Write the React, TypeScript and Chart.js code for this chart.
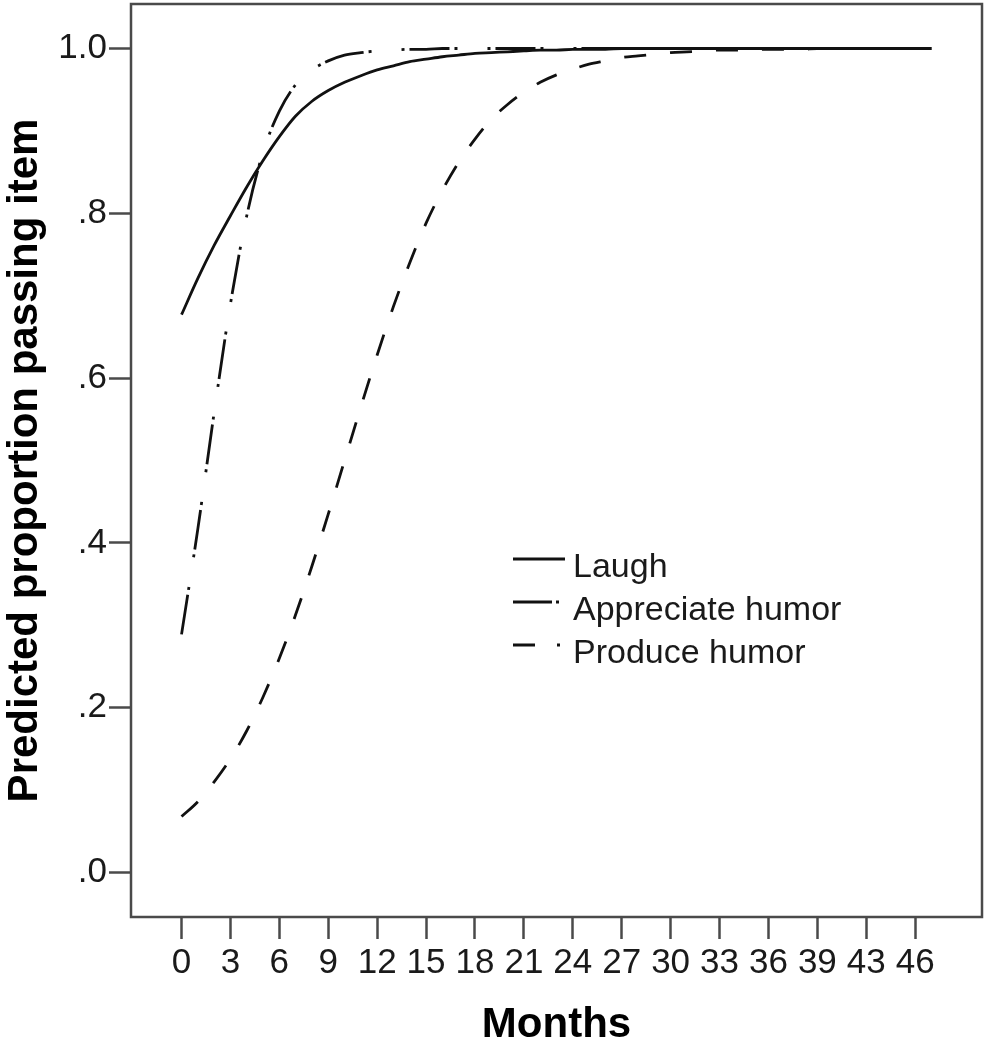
import React, { useEffect, useRef } from "react";
import { Chart, registerables } from "chart.js";

Chart.register(...registerables);

// ---- data ----
const months = [
  0, 1, 2, 3, 4, 5, 6, 7, 8, 9, 10, 11, 12, 13, 14, 15, 16, 17, 18, 19, 20,
  21, 22, 23, 24, 25, 26, 27, 28, 29, 30, 31, 32, 33, 34, 35, 36, 37, 38, 39,
  40, 41, 43, 44, 45, 46, 47,
];

const laugh = [
  0.677, 0.721, 0.761, 0.797, 0.832, 0.864, 0.893, 0.918, 0.936, 0.949, 0.959,
  0.967, 0.974, 0.979, 0.984, 0.987, 0.99, 0.992, 0.994, 0.995, 0.996, 0.997,
  0.998, 0.998, 0.999, 0.999, 0.999, 1.0, 1.0, 1.0, 1.0, 1.0, 1.0, 1.0, 1.0,
  1.0, 1.0, 1.0, 1.0, 1.0, 1.0, 1.0, 1.0, 1.0, 1.0, 1.0, 1.0,
];

const appreciateHumor = [
  0.289, 0.417, 0.558, 0.69, 0.797, 0.874, 0.924, 0.956, 0.974, 0.985, 0.992,
  0.995, 0.997, 0.998, 0.999, 0.999, 1.0, 1.0, 1.0, 1.0, 1.0, 1.0, 1.0, 1.0,
  1.0, 1.0, 1.0, 1.0, 1.0, 1.0, 1.0, 1.0, 1.0, 1.0, 1.0, 1.0, 1.0, 1.0, 1.0,
  1.0, 1.0, 1.0, 1.0, 1.0, 1.0, 1.0, 1.0,
];

const produceHumor = [
  0.068, 0.086, 0.11, 0.138, 0.172, 0.213, 0.26, 0.313, 0.372, 0.435, 0.5,
  0.565, 0.628, 0.687, 0.74, 0.788, 0.828, 0.862, 0.89, 0.914, 0.932, 0.947,
  0.959, 0.968, 0.975, 0.981, 0.985, 0.989, 0.991, 0.993, 0.995, 0.996, 0.997,
  0.998, 0.998, 0.999, 0.999, 0.999, 0.999, 1.0, 1.0, 1.0, 1.0, 1.0, 1.0, 1.0,
  1.0,
];

const seriesNames = ["Laugh", "Appreciate humor", "Produce humor"];
const xLabelStep = 3;
const yTickValues = [0, 0.2, 0.4, 0.6, 0.8, 1.0];
const yTickLabels = [".0", ".2", ".4", ".6", ".8", "1.0"];
const xTitle = "Months";
const yTitle = "Predicted proportion passing item";

// ---- styles ----
const FONT = 'Arial, "Liberation Sans", sans-serif';
const INK = "#1a1a1a";
const FRAME = "#4a4a4a";
const lineDashes = [[], [40, 5, 3, 30, 3, 5], [22, 24]];
const legendSampleDashes = [[], [39, 4, 3, 200], [22, 22, 3, 200]];

const framePlugin = {
  id: "frame",
  afterDraw(chart: any) {
    const { ctx, chartArea: a } = chart;
    ctx.save();
    ctx.strokeStyle = FRAME;
    ctx.lineWidth = 2.5;
    ctx.setLineDash([]);
    ctx.strokeRect(a.left, a.top, a.right - a.left, a.bottom - a.top);
    ctx.restore();
  },
};

const legendPlugin = {
  id: "insideLegend",
  afterDraw(chart: any) {
    const { ctx, chartArea: a } = chart;
    const x0 = a.left + 382;
    const textX = a.left + 442;
    const baseline0 = a.top + 573;
    const rowGap = 43;
    ctx.save();
    chart.data.datasets.forEach((ds: any, i: number) => {
      const base = baseline0 + i * rowGap;
      const ly = base - 18;
      ctx.beginPath();
      ctx.setLineDash(legendSampleDashes[i]);
      ctx.lineCap = "butt";
      ctx.lineWidth = 2.8;
      ctx.strokeStyle = "#111";
      ctx.moveTo(x0, ly);
      ctx.lineTo(x0 + (i === 0 ? 52 : 47), ly);
      ctx.stroke();
      ctx.setLineDash([]);
      ctx.fillStyle = INK;
      ctx.font = `34px ${FONT}`;
      ctx.textAlign = "left";
      ctx.textBaseline = "alphabetic";
      ctx.fillText(ds.label, textX, base);
    });
    ctx.restore();
  },
};

export default function App() {
  const ref = useRef<HTMLCanvasElement | null>(null);

  useEffect(() => {
    if (!ref.current) return;
    const series = [laugh, appreciateHumor, produceHumor];
    const chart = new Chart(ref.current, {
      type: "line",
      data: {
        datasets: series.map((vals, s) => ({
          label: seriesNames[s],
          data: vals.map((v, i) => ({ x: i, y: v })),
          borderColor: "#111",
          borderWidth: 2.8,
          borderDash: lineDashes[s],
          borderCapStyle: "butt" as const,
          pointRadius: 0,
          fill: false,
          cubicInterpolationMode: "monotone" as const,
        })),
      },
      options: {
        animation: false,
        responsive: false,
        devicePixelRatio: 1,
        layout: { padding: { top: 4, right: 5, left: 0, bottom: 0 } },
        plugins: {
          legend: { display: false },
          tooltip: { enabled: false },
        },
        scales: {
          x: {
            type: "linear",
            min: -3.1,
            max: 49.1,
            bounds: "data",
            afterBuildTicks: (scale: any) => {
              scale.ticks = months
                .map((_, i) => i)
                .filter((i) => i % xLabelStep === 0)
                .map((i) => ({ value: i }));
            },
            afterFit: (scale: any) => {
              scale.height = 126;
              scale.paddingLeft = 0;
              scale.paddingRight = 0;
            },
            ticks: {
              autoSkip: false,
              maxRotation: 0,
              padding: 3,
              color: INK,
              font: { family: FONT, size: 35 },
              callback: (v: any) => String(months[v as number]),
            },
            grid: {
              display: true,
              drawOnChartArea: false,
              drawTicks: true,
              tickLength: 22,
              tickColor: FRAME,
              tickWidth: 2.5,
            },
            border: { display: false },
            title: {
              display: true,
              text: xTitle,
              color: "#000",
              font: { family: FONT, size: 42, weight: "bold", lineHeight: 0.83 },
              padding: 0,
            },
          },
          y: {
            type: "linear",
            min: -0.054,
            max: 1.054,
            bounds: "data",
            afterBuildTicks: (scale: any) => {
              scale.ticks = yTickValues.map((v) => ({ value: v }));
            },
            afterFit: (scale: any) => {
              scale.width = 131;
              scale.paddingTop = 0;
              scale.paddingBottom = 0;
            },
            ticks: {
              autoSkip: false,
              padding: 2,
              color: INK,
              font: { family: FONT, size: 35 },
              callback: (v: any) => {
                const k = yTickValues.findIndex((t) => Math.abs(t - v) < 1e-9);
                return k >= 0 ? yTickLabels[k] : "";
              },
            },
            grid: {
              display: true,
              drawOnChartArea: false,
              drawTicks: true,
              tickLength: 22,
              tickColor: FRAME,
              tickWidth: 2.5,
            },
            border: { display: false },
            title: {
              display: true,
              text: yTitle,
              color: "#000",
              font: { family: FONT, size: 42, weight: "bold", lineHeight: 1.2 },
              padding: 0,
            },
          },
        },
      },
      plugins: [framePlugin, legendPlugin],
    });
    return () => chart.destroy();
  }, []);

  return (
    <div
      style={{
        position: "absolute",
        left: 0,
        top: 0,
        width: 987,
        height: 1043,
        background: "#fff",
      }}
    >
      <canvas
        ref={ref}
        width={987}
        height={1043}
        style={{ display: "block", width: 987, height: 1043 }}
      />
    </div>
  );
}
